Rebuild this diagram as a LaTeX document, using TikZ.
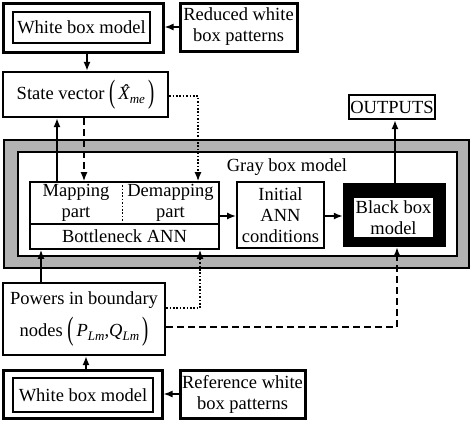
\documentclass[tikz,border=0pt]{standalone}
\usepackage{fontspec}
\usepackage{graphicx}
\setmainfont{Liberation Serif}
\usetikzlibrary{arrows.meta}
\definecolor{graybg}{RGB}{178,178,178}
\newcommand\myLP{\raisebox{-3pt}{\scalebox{1}[1.75]{(}}}
\newcommand\myRP{\raisebox{-3pt}{\scalebox{1}[1.75]{)}}}
\newcommand\mySub[1]{\raisebox{-4pt}{\fontsize{13}{13}\selectfont\itshape #1}}
\newcommand\myXhat{\textit{X}\llap{\raisebox{2pt}{\textit{\char"02C6}}\kern1.5pt}}
\begin{document}
\begin{tikzpicture}[x=1pt,y=-1pt,
  lbl/.style={font=\fontsize{18.5}{21}\selectfont, align=center, inner sep=0pt},
  box/.style={draw, line width=2.2pt, lbl},
  arr/.style={-{Latex[length=9pt,width=7pt]}, line width=1.6pt},
  dotline/.style={line width=1.6pt, dash pattern=on 1.6pt off 1.8pt},
  dashline/.style={line width=1.6pt, dash pattern=on 7pt off 4pt}]
\useasboundingbox (0,0) rectangle (474,424);
% top white box model
\node[box, line width=3pt, minimum width=160pt, minimum height=49pt] (wb1) at (83,27.5) {};
\node[box, line width=2pt, minimum width=137pt, minimum height=31pt] (wb1i) at (81.5,27.5) {White box model};
\node[box, line width=3pt, minimum width=117pt, minimum height=48pt] (red) at (238.5,27) {Reduced white\\box patterns};
\node[box, minimum width=165pt, minimum height=45pt] (sv) at (85.5,94.5) {State vector \myLP\,\myXhat\kern-0.5pt\mySub{me}\,\myRP};
\node[box, minimum width=86pt, minimum height=24pt] (out) at (392,107) {OUTPUTS};
% gray box
\node[draw, line width=2pt, fill=graybg, minimum width=465pt, minimum height=128pt] (gout) at (236.5,204) {};
\node[draw, line width=1.5pt, fill=white, minimum width=439pt, minimum height=104pt] (gin) at (237.5,204) {};
\node[lbl] (glabel) at (287,167) {Gray box model};
% bottleneck
\node[draw, line width=1.6pt, minimum width=189pt, minimum height=67pt] (bn) at (124.5,215.5) {};
\node[lbl, minimum width=92pt, minimum height=42pt] (mp) at (76,203) {Mapping\\part};
\node[lbl, minimum width=97pt, minimum height=42pt] (dm) at (170.5,203) {Demapping\\part};
\node[lbl, draw, line width=1.6pt, minimum width=189pt, minimum height=25pt] (bnl) at (124.5,236.5) {Bottleneck ANN};
\draw[dotline, line width=1.2pt] (mp.north east) -- (mp.south east);
% initial
\node[box, line width=1.8pt, minimum width=87pt, minimum height=66pt] (ini) at (280.5,215) {Initial\\ANN\\conditions};
% black box
\node[fill=black, minimum width=103pt, minimum height=64pt, inner sep=0pt] (bbo) at (394.5,215) {};
\node[lbl, fill=white, minimum width=79pt, minimum height=39pt] (bb) at (393.5,217.5) {Black box\\model};
% bottom
\node[box, minimum width=162pt, minimum height=72pt] (pw) at (84,319) {Powers in boundary\\[7pt]nodes \myLP\,\textit{P}\mySub{Lm},\textit{Q}\mySub{Lm}\,\myRP};
\node[box, line width=3pt, minimum width=159pt, minimum height=48pt] (wb2) at (82.5,394) {};
\node[box, line width=2pt, minimum width=140pt, minimum height=34pt] (wb2i) at (83,395) {White box model};
\node[box, line width=3pt, minimum width=125pt, minimum height=48pt] (ref) at (242.5,394) {Reference white\\box patterns};
% helper coordinates
\coordinate (xa) at (57,0);
\coordinate (xb) at (84,0);
\coordinate (xc) at (198,96);
\coordinate (xd) at (41,0);
\coordinate (xe) at (200,308);
\coordinate (xf) at (397,327);
\coordinate (xg) at (87,0);
\coordinate (xh) at (395,0);
\coordinate (xi) at (86,0);
\coordinate (ya) at (0,27);
\coordinate (yb) at (0,216);
\coordinate (yc) at (0,394);
% connectors
\draw[arr] (red.west |- ya) -- (wb1.east |- ya);
\draw[arr] (wb1.south -| xg) -- (sv.north -| xg);
\draw[arr] (bn.north -| xa) -- (sv.south -| xa);
\draw[arr, dashline] (sv.south -| xb) -- (bn.north -| xb);
\draw[arr, dotline] (sv.east |- xc) -- (xc) -- (bn.north -| xc);
\draw[arr] (bn.east |- yb) -- (ini.west |- yb);
\draw[arr] (ini.east |- yb) -- (bbo.west |- yb);
\draw[arr] (bbo.north -| xh) -- (out.south -| xh);
\draw[arr] (pw.north -| xd) -- (bn.south -| xd);
\draw[arr, dotline] (pw.east |- xe) -- (xe) -- (bn.south -| xe);
\draw[arr, dashline] (pw.east |- xf) -- (xf) -- (bbo.south -| xf);
\draw[arr] (wb2.north -| xi) -- (pw.south -| xi);
\draw[arr] (ref.west |- yc) -- (wb2.east |- yc);
\end{tikzpicture}
\end{document}
